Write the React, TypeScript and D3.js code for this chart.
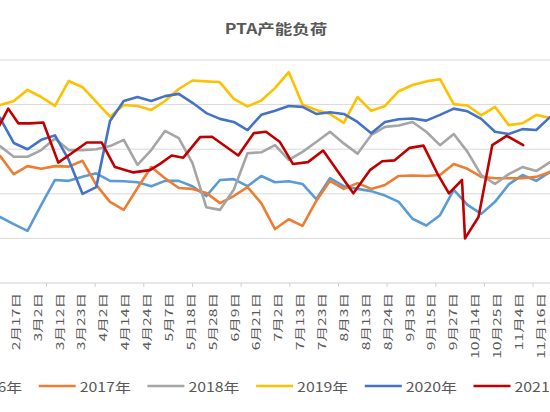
import React from "react";
import * as d3 from "d3";

// chart texts
const title = "PTA产能负荷";
const years = ["2016年", "2017年", "2018年", "2019年", "2020年", "2021年"];
const colors = ["#5B9BD5", "#ED7D31", "#A5A5A5", "#FFC000", "#4472C4", "#C00000"];

// x axis category labels (every 8th trading day)
const dateLabels = [
  "2月5日", "2月17日", "3月2日", "3月12日", "3月23日", "4月2日", "4月14日",
  "4月24日", "5月7日", "5月18日", "5月28日", "6月9日", "6月21日", "7月2日",
  "7月13日", "7月23日", "8月3日", "8月13日", "8月24日", "9月3日", "9月15日",
  "9月27日", "10月14日", "10月25日", "11月4日", "11月16日",
];

const yTicks = [50, 60, 70, 80, 90, 100];

// weekly load, %
const load2016 = [
  64.8, 63.2, 61.7, 67.5, 73.1, 72.9, 73.8, 74.6, 72.9, 72.8,
  72.6, 71.7, 72.9, 72.9, 71.7, 69.5, 73.1, 73.3, 71.7, 74.0,
  72.6, 72.8, 72.2, 68.8, 73.5, 71.7, 71.1, 70.6, 69.6, 68.2,
  64.4, 62.9, 65.2, 70.9, 67.5, 65.5, 68.2, 72.1, 74.2, 72.9, 74.9,
];
const load2017 = [
  78.5, 74.4, 76.2, 75.6, 76.2, 76.1, 77.4, 72.0, 68.2, 66.4,
  71.3, 76.0, 73.5, 71.3, 71.1, 70.2, 67.9, 69.5, 71.5, 67.9,
  62.1, 64.3, 62.8, 68.4, 72.9, 71.1, 72.4, 71.1, 72.0, 74.0,
  74.1, 74.0, 74.2, 76.7, 75.6, 73.8, 73.5, 73.5, 73.5, 73.8, 74.9,
];
const load2018 = [
  80.7, 78.3, 78.3, 79.8, 82.4, 79.8, 79.8, 80.0, 80.7, 82.1,
  76.5, 79.8, 84.1, 82.5, 76.9, 67.0, 66.4, 70.9, 79.1, 79.3,
  80.9, 77.6, 79.4, 81.6, 83.9, 81.3, 79.0, 83.2, 85.0, 85.3,
  86.1, 83.9, 80.9, 83.4, 79.4, 74.2, 72.2, 74.4, 76.0, 75.1, 77.1,
];
const load2019 = [
  89.9, 90.8, 93.3, 91.7, 89.7, 95.3, 93.9, 90.6, 87.3, 89.9,
  89.7, 88.8, 90.8, 93.5, 95.4, 95.2, 95.0, 91.3, 89.6, 90.9,
  93.7, 97.3, 90.0, 88.8, 87.9, 85.9, 91.7, 88.6, 89.7, 93.0,
  94.4, 95.2, 95.7, 90.1, 89.8, 87.6, 89.5, 85.4, 85.8, 87.7, 87.0,
];
const load2020 = [
  87.0, 81.4, 80.0, 82.1, 83.1, 77.6, 70.0, 71.5, 86.3, 90.8,
  91.7, 90.8, 91.9, 92.4, 90.4, 88.1, 86.8, 86.1, 84.3, 87.7,
  88.6, 89.7, 89.5, 87.9, 88.3, 87.9, 86.1, 83.6, 86.1, 86.7,
  86.9, 86.4, 87.7, 89.1, 88.5, 86.8, 83.9, 83.4, 84.5, 84.3, 87.2,
];
// 2021 has its own (irregular) week positions
const weeks2021 = [
  -0.6, 0.6, 1.33, 2.18, 3.15, 4.24, 5.21, 6.31, 7.4, 8.36, 9.7, 10.9, 11.64,
  12.49, 13.33, 14.55, 15.42, 17.33, 18.45, 19.35, 20.36, 21.3, 22.4, 23.5,
  24.6, 25.7, 26.9, 27.8, 28.7, 29.8, 30.8, 31.8, 32.65, 33.6, 33.82, 34.8,
  35.8, 36.85, 38.05,
];
const load2021 = [
  82.1, 89.1, 85.8, 85.8, 86.0, 77.0, 79.1, 81.5, 81.5, 76.0, 74.8, 75.3, 76.7,
  78.6, 78.1, 82.7, 82.8, 78.6, 83.6, 83.9, 81.6, 76.7, 77.1, 79.7, 74.9, 70.1,
  75.3, 77.3, 77.5, 80.3, 80.8, 74.6, 70.1, 73.1, 60.0, 64.8, 80.9, 83.0, 80.9,
];

const width = 550;
const height = 412;
const font = "'Noto Sans CJK SC', 'Noto Sans', sans-serif";

export default function App() {
  const y = d3.scaleLinear().domain([50, 100]).range([283, 60]);
  // weekly position scale
  const xWeek = d3.scaleLinear().domain([0, 40]).range([0, width]);
  // trading day scale for the category axis
  const xDay = d3.scaleLinear().domain([3.01, 3.01 + width / 2.734]).range([0, width]);

  const weekly = [load2016, load2017, load2018, load2019, load2020];
  const seriesPts: [number, number][][] = weekly.map((arr) =>
    arr.map((v, i) => [i, v] as [number, number])
  );
  seriesPts.push(weeks2021.map((w, i) => [w, load2021[i]] as [number, number]));

  const line = d3
    .line<[number, number]>()
    .x((d) => xWeek(d[0]))
    .y((d) => y(d[1]));

  const tickDays = d3.range(0, 11).map((k) => 20 + k * 17.8);

  return (
    <svg
      width={width}
      height={height}
      style={{ position: "absolute", left: 0, top: 0, background: "#fff" }}
      fontFamily={font}
    >
      <rect width={width} height={height} fill="#fff" />
      <text
        transform="translate(276,34) scale(1.25,1)"
        textAnchor="middle"
        fontSize={14}
        fontWeight="bold"
        fill="#595959"
      >
        {title}
      </text>

      {/* grid */}
      {yTicks.slice(1).map((t) => (
        <line key={t} x1={0} x2={width} y1={y(t)} y2={y(t)} stroke="#D9D9D9" strokeWidth={1} />
      ))}
      <line x1={0} x2={width} y1={y(50)} y2={y(50)} stroke="#D0D0D0" strokeWidth={1} />
      {tickDays.map((d, i) => (
        <line key={i} x1={xDay(d)} x2={xDay(d)} y1={y(50)} y2={y(50) + 4} stroke="#D0D0D0" />
      ))}

      {/* series */}
      {seriesPts.map((pts, i) => (
        <path
          key={years[i]}
          d={line(pts) || ""}
          fill="none"
          stroke={colors[i]}
          strokeWidth={2.6}
          strokeLinejoin="round"
          strokeLinecap="round"
        />
      ))}

      {/* x labels */}
      {dateLabels.map((lab, j) => (
        <text
          key={lab}
          transform={`translate(${xDay(8 * j + 0.5)},293) rotate(-90) scale(1.3,0.9)`}
          textAnchor="end"
          dominantBaseline="central"
          fontSize={12}
          fill="#595959"
        >
          {lab}
        </text>
      ))}

      {/* legend */}
      {years.map((yr, k) => {
        const x0 = -70 + k * 108.7;
        return (
          <g key={yr}>
            <line x1={x0} x2={x0 + 37} y1={386} y2={386} stroke={colors[k]} strokeWidth={2.6} />
            <text
              transform={`translate(${x0 + 41},386) scale(1.22,1)`}
              dominantBaseline="central"
              fontSize={13}
              fill="#595959"
            >
              {yr}
            </text>
          </g>
        );
      })}
    </svg>
  );
}
